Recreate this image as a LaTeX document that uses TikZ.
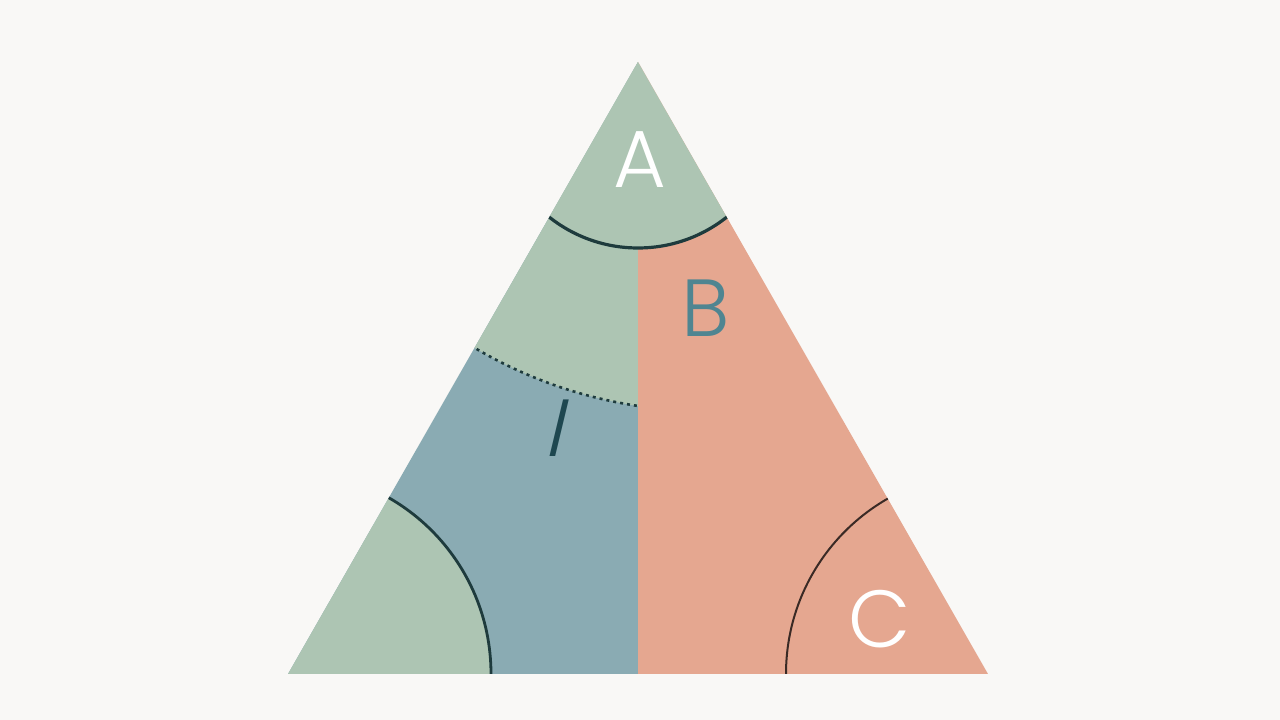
\documentclass[tikz,border=0pt]{standalone}
\usepackage{fontspec}
\newfontfamily\lbl{Poppins Light}
\definecolor{bg}{HTML}{F9F8F6}
\definecolor{sage}{HTML}{ADC5B3}
\definecolor{slate}{HTML}{8AABB3}
\definecolor{salmon}{HTML}{E5A790}
\definecolor{inkdark}{HTML}{1E3B3D}
\definecolor{inkbrown}{HTML}{3A2A25}
\definecolor{tealtxt}{HTML}{4F8591}
\definecolor{itxt}{HTML}{1E4750}
\tikzset{
  lab/.style={font=\lbl\fontsize{81}{81}\selectfont, inner sep=0pt, anchor=center},
  arcline/.style={line width=3.2pt, draw=inkdark},
}
\begin{document}
\begin{tikzpicture}[x=1pt,y=1pt]
\useasboundingbox (0,0) rectangle (1280,720);
\fill[bg] (0,0) rectangle (1280,720);
\coordinate (T) at (638,658);
\coordinate (L) at (288,46);
\coordinate (R) at (988,46);
\coordinate (M) at (638,46);
\begin{scope}
  \clip (T) -- (L) -- (R) -- cycle;
  % left half
  \begin{scope}
    \clip (L) rectangle (T);
    \fill[slate] (L) rectangle (T);
    \fill[sage] (706,764) circle[radius=455];
    \draw[line width=2.6pt, draw=inkdark, dash pattern=on 3pt off 4pt] (706,764) circle[radius=455];
  \end{scope}
  % right half
  \fill[salmon] (M) rectangle (988,658);
  % top cap
  \fill[sage] (638,615) circle[radius=143];
  \draw[arcline] (638,615) circle[radius=143];
  % bottom-left corner
  \fill[sage] (L) circle[radius=203];
  \draw[line width=2.8pt, draw=inkdark] (L) circle[radius=203];
  % bottom-right corner
  \draw[line width=2pt, draw=inkbrown] (R) circle[radius=202];
\end{scope}
\node[lab, text=white] (a) at (640,560) {A};
\node[lab, text=tealtxt] (b) at (706,412) {B};
\node[lab, text=white] (c) at (880,101) {C};
\node[lab, text=itxt, xslant=0.24, transform shape] (i) at (559.5,291.5) {I};
\end{tikzpicture}
\end{document}
